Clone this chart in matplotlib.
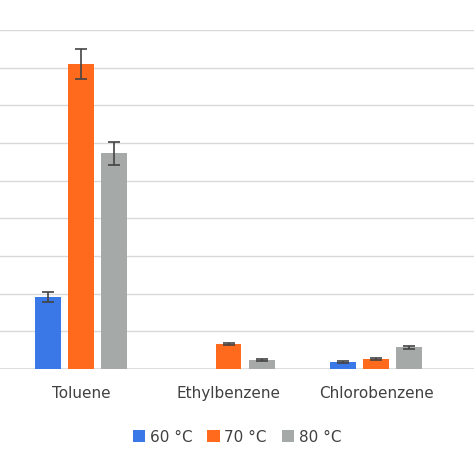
import matplotlib
matplotlib.use("Agg")
import matplotlib.pyplot as plt
import matplotlib.transforms as mtransforms
import numpy as np

categories = ["Toluene", "Ethylbenzene", "Chlorobenzene", "Styrene"]
series = ["60 °C", "70 °C", "80 °C"]
v60 = [1.91, 0.0, 0.19, 0.0]
v70 = [8.09, 0.66, 0.27, 0.0]
v80 = [5.73, 0.24, 0.58, 0.0]
e60 = [0.13, 0.0, 0.02, 0.0]
e70 = [0.40, 0.03, 0.02, 0.0]
e80 = [0.30, 0.02, 0.04, 0.0]
colors = ["#3b78e7", "#ff6a1c", "#a5a9a8"]

fig = plt.figure(figsize=(4.74, 4.74), dpi=100)
ax = fig.add_axes([0, 0.2215, 1, 0.715])
x = np.arange(len(categories))
w = 0.176
off = 0.224
for i, (vals, errs) in enumerate([(v60, e60), (v70, e70), (v80, e80)]):
    ax.bar(x + (i - 1) * off, vals, w, color=colors[i], label=series[i], zorder=3,
           yerr=[e if e > 0 else np.nan for e in errs], capsize=4,
           error_kw=dict(ecolor="#444444", elinewidth=1.2, capthick=1.2))
ax.set_xlim(-0.549, 2.664)
ax.set_ylim(0, 9)
ax.set_yticks(np.arange(0, 10, 1))
ax.yaxis.grid(True, color="#d9d9d9", linewidth=1, zorder=0)
ax.set_yticklabels([])
ax.tick_params(axis="y", length=0)
ax.tick_params(axis="x", length=0, pad=12, labelsize=11, labelcolor="#404040")
ax.set_xticks(x[:3])
ax.set_xticklabels(categories[:3])
trans = mtransforms.blended_transform_factory(ax.transData, ax.transAxes)
t = ax.text(x[3], -0.055, categories[3], transform=trans, ha="center", va="top",
            fontsize=11, color="#404040", clip_on=False)
t.set_in_layout(False)
for s in ax.spines.values():
    s.set_visible(False)
ax.axhline(0, color="#d9d9d9", linewidth=1.2, zorder=2)
fig.legend(loc="center", bbox_to_anchor=(0.5, 0.078), ncol=3, frameon=False,
           fontsize=11, handlelength=0.8, handleheight=0.8, handletextpad=0.3,
           columnspacing=1.0, labelcolor="#404040")
fig.savefig("out.png", dpi=100)
